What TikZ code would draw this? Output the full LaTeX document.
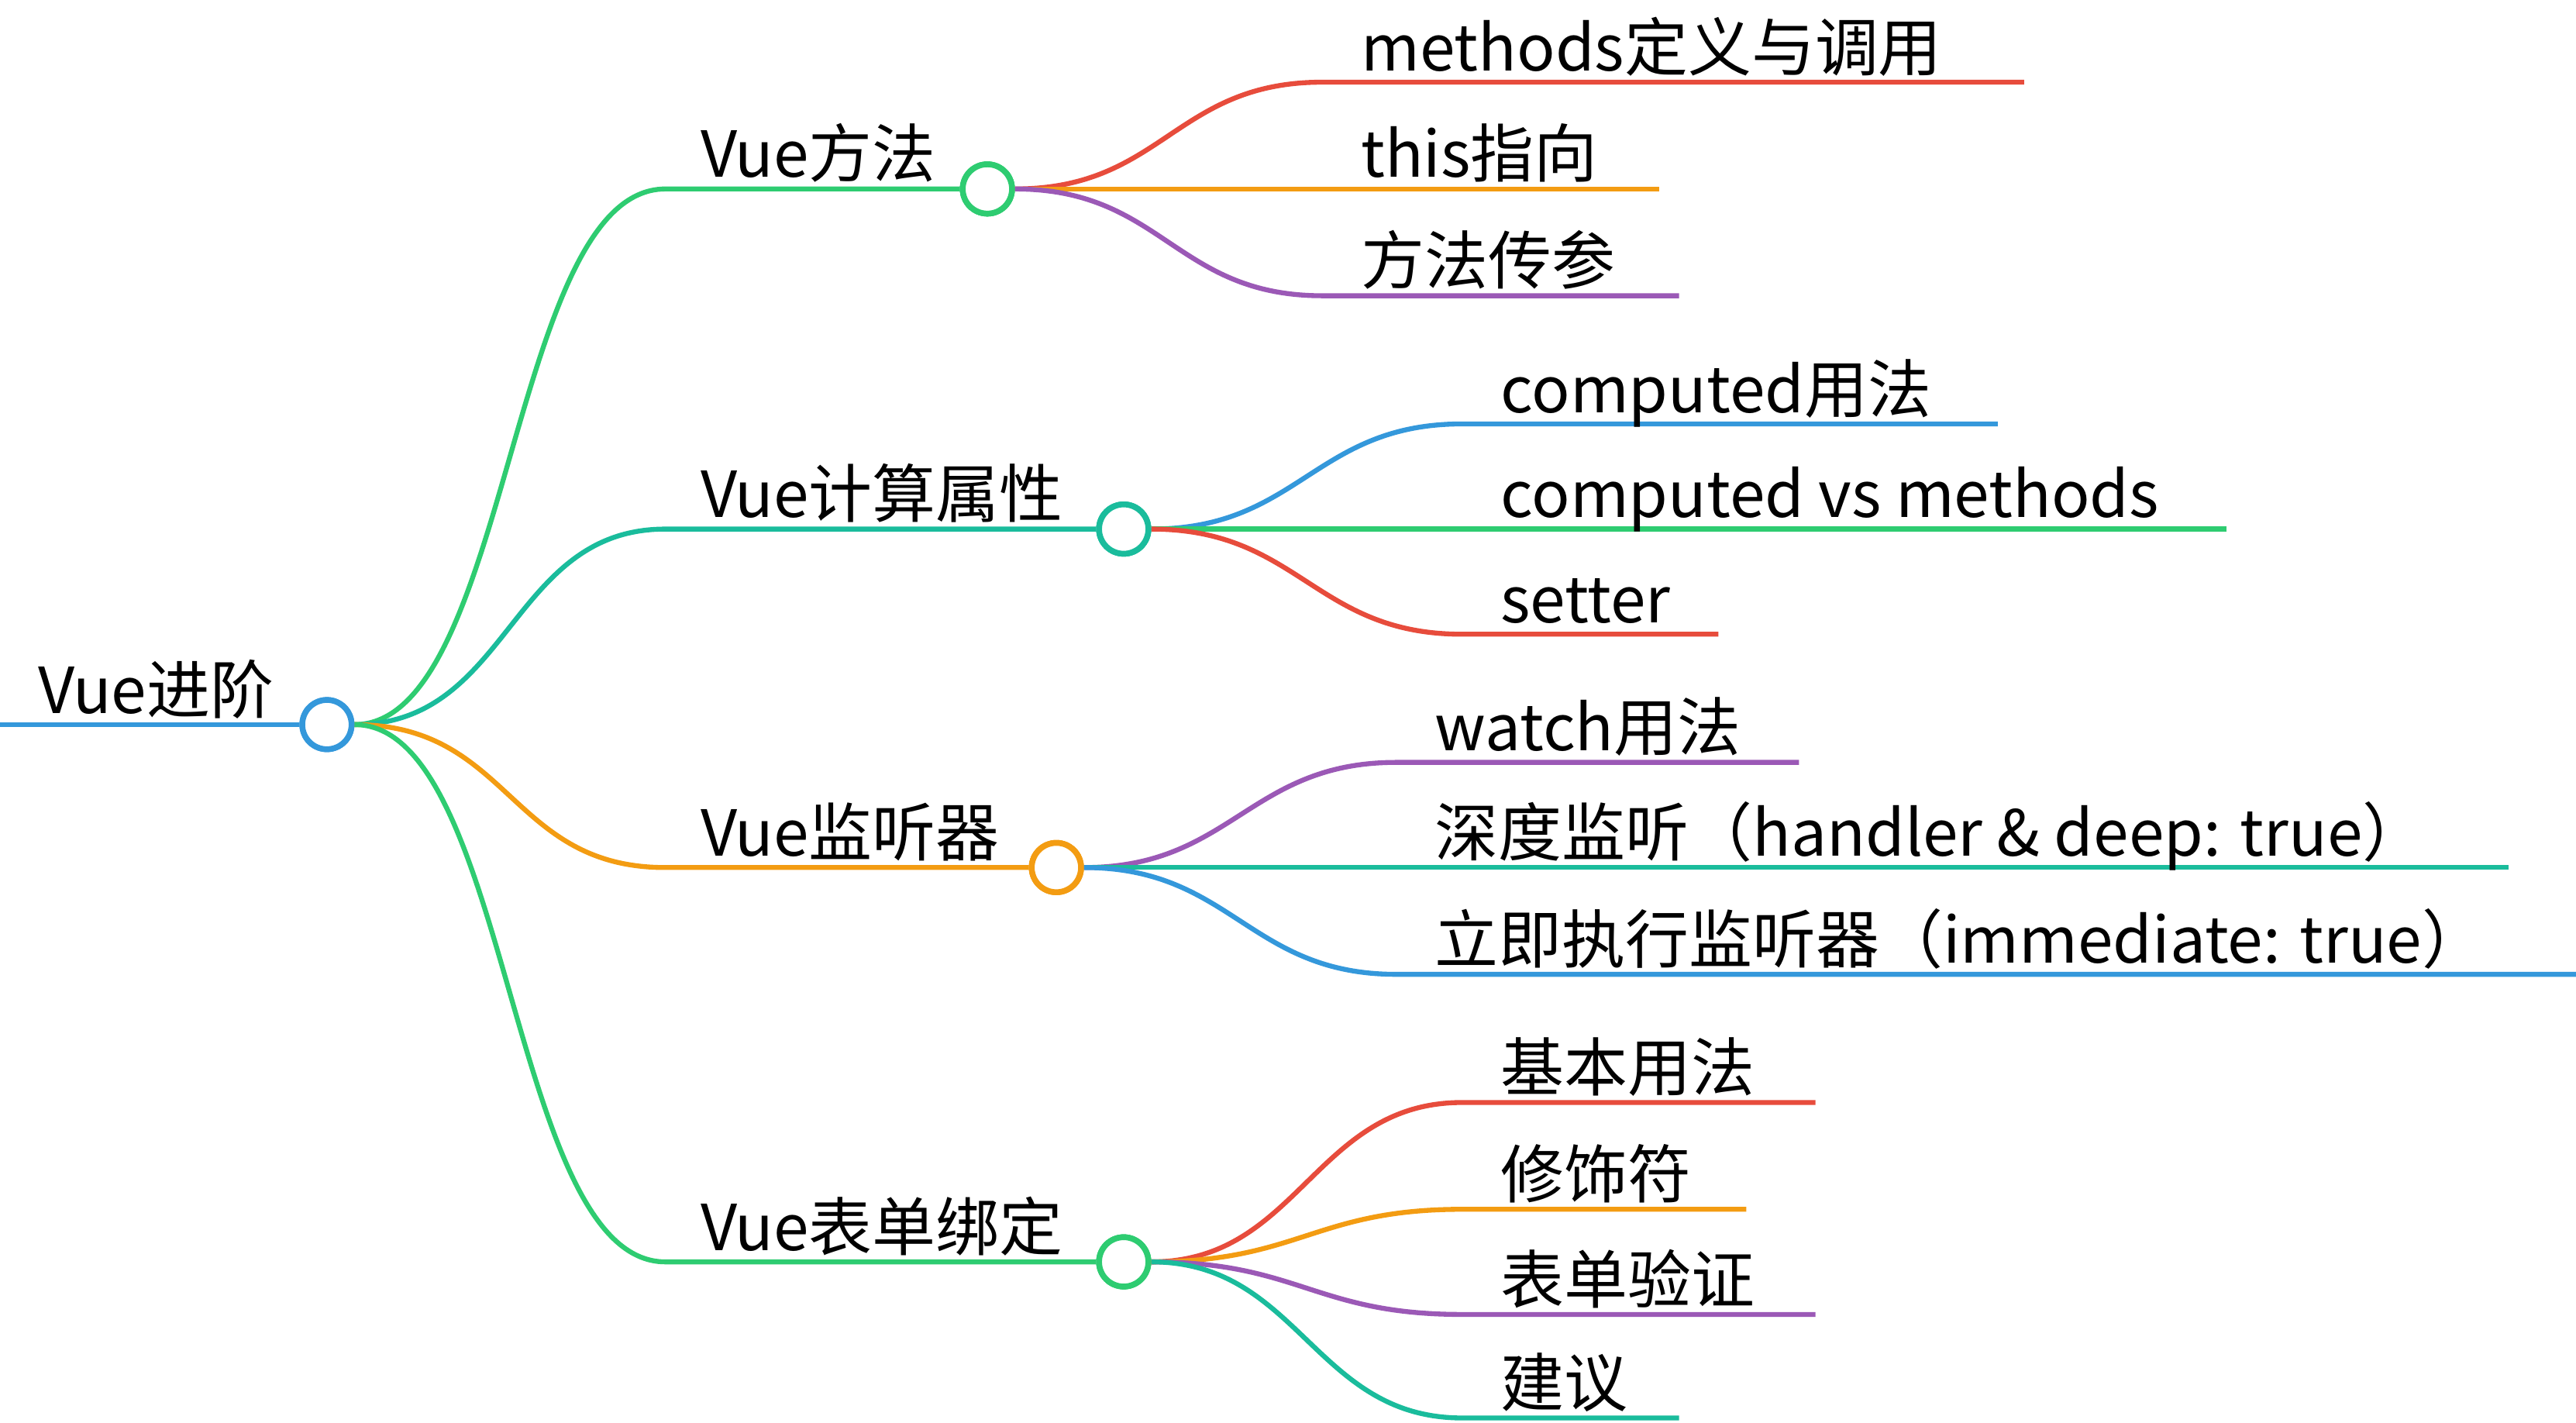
\documentclass[tikz,border=0pt]{standalone}
\usepackage{fontspec}
\setmainfont{Noto Sans CJK SC}
\definecolor{cgreen}{HTML}{2ECC71}
\definecolor{cteal}{HTML}{1ABC9C}
\definecolor{corange}{HTML}{F39C12}
\definecolor{cblue}{HTML}{3498DB}
\definecolor{cred}{HTML}{E74C3C}
\definecolor{cpurple}{HTML}{9B59B6}
\begin{document}
\begin{tikzpicture}[x=0.02cm,y=-0.02cm,line width=1.7pt,
  hub/.style={circle,draw=#1,fill=white,line width=2pt,minimum size=0.6cm,inner sep=0pt},
  lbl/.style={anchor=base west,inner sep=0pt,font=\fontsize{22}{26}\selectfont}]
\useasboundingbox (0,0) rectangle (1568,866);

% root
\coordinate (rs) at (0,441);
\node[hub=cblue] (root) at (199,441) {};
\draw[cblue] (rs) -- (root.west);
\node[lbl] at (22,434) {Vue进阶};

% branches
\foreach \n/\y/\cx/\col/\txt in {b1/115/601/cgreen/Vue方法, b2/322/684/cteal/Vue计算属性,
    b3/528/643/corange/Vue监听器, b4/768/684/cgreen/Vue表单绑定}{
  \coordinate (\n s) at (405,\y);
  \node[hub=\col] (\n) at (\cx,\y) {};
  \draw[\col] (root.east) .. controls +(95,0) and +(-95,0) .. (\n s) -- (\n.west);
  \node[lbl] at (425,\y-7) {\txt};
}
\node[hub=cgreen] at (b1) {};
\node[hub=cteal] at (b2) {};
\node[hub=corange] at (b3) {};
\node[hub=cgreen] at (b4) {};

% leaves
\foreach \p/\y/\xs/\xe/\col/\txt in {
    b1/50/805/1232/cred/methods定义与调用,
    b1/115/805/1010/corange/this指向,
    b1/180/805/1022/cpurple/方法传参,
    b2/258/890/1216/cblue/computed用法,
    b2/322/890/1355/cgreen/computed vs methods,
    b2/386/890/1046/cred/setter,
    b3/464/850/1095/cpurple/watch用法,
    b3/528/850/1527/cteal/深度监听（handler \& deep: true）,
    b3/593/850/1568/cblue/立即执行监听器（immediate: true）,
    b4/671/890/1105/cred/基本用法,
    b4/736/890/1063/corange/修饰符,
    b4/800/890/1105/cpurple/表单验证,
    b4/863/890/1022/cteal/建议}{
  \coordinate (ls) at (\xs,\y);
  \coordinate (le) at (\xe,\y);
  \draw[\col] (\p.east) .. controls +(90,0) and +(-90,0) .. (ls) -- (le);
  \node[lbl] at (\xs+22,\y-7) {\txt};
}
\foreach \n/\col in {b1/cgreen,b2/cteal,b3/corange,b4/cgreen}
  \node[hub=\col] at (\n) {};
\node[hub=cblue] at (root) {};
\end{tikzpicture}
\end{document}
